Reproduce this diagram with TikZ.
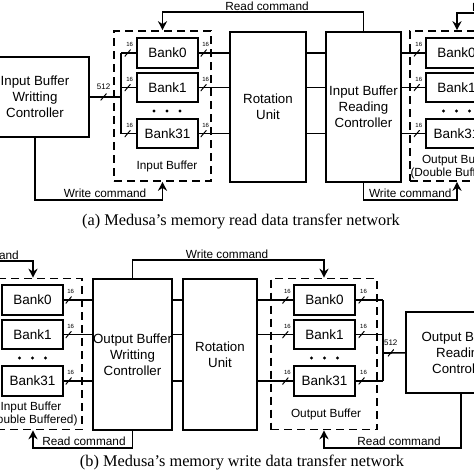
\documentclass[tikz,border=0pt]{standalone}
\usepackage{fontspec}
\setmainfont{Liberation Serif}
\setsansfont{Liberation Sans}
\usetikzlibrary{arrows.meta,positioning}

\begin{document}
\begin{tikzpicture}[x=1pt,y=-1pt,
  blk/.style={draw,line width=1.6pt,align=center,inner sep=0pt,
              font=\sffamily\fontsize{13.3}{16}\selectfont},
  bank/.style={draw,line width=1.6pt,minimum width=61pt,minimum height=29.5pt,
               inner sep=0pt,font=\sffamily\fontsize{13.5}{16}\selectfont},
  buf/.style={draw,dash pattern=on 8pt off 5pt,line width=1.6pt,inner sep=0pt},
  wire/.style={line width=1.6pt},
  cmd/.style={line width=1.6pt,-{Stealth[length=9pt,width=9pt]}},
  cmdlbl/.style={font=\sffamily\fontsize{11.8}{14}\selectfont,inner sep=1pt},
  buflbl/.style={align=center,font=\sffamily\fontsize{11.8}{13}\selectfont},
  slash/.style={minimum width=6pt,minimum height=7pt,inner sep=0pt,outer sep=0pt,
    path picture={\draw[line width=1pt] (path picture bounding box.south west)
                  -- (path picture bounding box.north east);},
    label={[font=\sffamily\fontsize{6}{6}\selectfont,inner sep=0pt,
            label distance=2pt,xshift=2pt]above:#1}},
  bus/.style={slash,
    label={[font=\sffamily\fontsize{8}{8}\selectfont,inner sep=0pt,
            label distance=3pt]above:#1}},
  figcap/.style={font=\fontsize{16.3}{18}\selectfont,inner sep=0pt}]
  \useasboundingbox (0,0) rectangle (474,474);
  \clip (0,0) rectangle (474,474);

  % (a) read network
  \node[blk,minimum width=108pt,minimum height=80pt] (ibwc) at (35,97)
    {Input Buffer\\Writting\\Controller};
  \node[buf,minimum width=97pt,minimum height=150pt] (ibufa) at (162.5,106) {};
  \node[bank] (iba0) at (167.5,53) {Bank0};
  \node[bank] (iba1) at (167.5,87.5) {Bank1};
  \node[bank] (iba31) at (167.5,133.5) {Bank31};
  \node[buflbl] (iblbla) at (167,166.5) {Input Buffer};
  \foreach \dx in {-13,0,13} \fill (167+\dx,111) circle (1.6);
  \coordinate (jna) at (121,97);
  \node[blk,minimum width=76pt,minimum height=150pt] (rua) at (268,107)
    {Rotation\\Unit};
  \node[blk,minimum width=75pt,minimum height=150pt] (ibrc) at (363.5,107)
    {Input Buffer\\Reading\\Controller};
  \node[buf,minimum width=94pt,minimum height=150pt] (obufa) at (457,106) {};
  \node[bank] (oba0) at (456.5,53) {Bank0};
  \node[bank] (oba1) at (456.5,87.5) {Bank1};
  \node[bank] (oba31) at (456.5,133.5) {Bank31};
  \node[buflbl] (oblbla) at (457,166.5) {Output Buffer\\(Double Buffered)};
  \foreach \dx in {-13,0,13} \fill (456.5+\dx,111) circle (1.6);

  \draw[wire] (ibwc) -- node[bus=512,pos=0.44] (sbusa) {} (jna);
  \draw[wire] (jna |- iba0) -- (jna |- iba31);
  \foreach \b in {0,1,31} {
    \draw[wire] (jna |- iba\b) -- node[slash=16,pos=0.44] (sia\b) {} (iba\b.west);
    \draw[wire] (iba\b.east) -- node[slash=16,pos=0.16] (soa\b) {} (iba\b -| rua.west);
    \draw[wire] (rua.east |- iba\b) -- (ibrc.west |- iba\b);
    \draw[wire] (ibrc.east |- oba\b) -- node[slash=16,pos=0.64] (sra\b) {} (oba\b.west);
  }

  \draw[cmd] (ibrc.north) -- ++(0,-19)
    -| node[cmdlbl,above,pos=0.24] (rdlbla) {Read command} (ibufa.north);
  \coordinate (rdsrc) at (490,13);
  \draw[cmd] (rdsrc) -| (obufa.north);
  \node[cmdlbl,anchor=south west] (rdlblb) at (471,13) {Read command};
  \draw[cmd] (ibwc.south) -- ++(0,62)
    -| node[cmdlbl,above,pos=0.275] (wrlbla) {Write command} (ibufa.south);
  \draw[cmd] (ibrc.south) -- ++(0,17)
    -| node[cmdlbl,above,pos=0.25] (wrlblb) {Write command} (obufa.south);

  \node[figcap] (capa) at (241,222) {(a) Medusa's memory read data transfer network};

  % (b) write network
  \node[buf,minimum width=98pt,minimum height=151pt] (ibufb) at (33,354) {};
  \node[bank] (ibb0) at (32.5,300) {Bank0};
  \node[bank] (ibb1) at (32.5,334.5) {Bank1};
  \node[bank] (ibb31) at (32.5,381) {Bank31};
  \node[buflbl] (iblblb) at (31,413.5) {Input Buffer\\(Double Buffered)};
  \foreach \dx in {-13,0,13} \fill (32.5+\dx,358) circle (1.6);
  \node[blk,minimum width=79pt,minimum height=151pt] (obwc) at (132.5,354.5)
    {Output Buffer\\Writting\\Controller};
  \node[blk,minimum width=74pt,minimum height=151pt] (rub) at (220,354.5)
    {Rotation\\Unit};
  \node[buf,minimum width=106pt,minimum height=151pt] (obufb) at (324,354) {};
  \node[bank] (obb0) at (324.5,300) {Bank0};
  \node[bank] (obb1) at (324.5,334.5) {Bank1};
  \node[bank] (obb31) at (324.5,381) {Bank31};
  \node[buflbl] (oblblb) at (326,414) {Output Buffer};
  \foreach \dx in {-13,0,13} \fill (324.5+\dx,358) circle (1.6);
  \coordinate (jnb) at (383,353);
  \node[blk,minimum width=110pt,minimum height=81pt] (obrc) at (461,352.5)
    {Output Buffer\\Reading\\Controller};

  \foreach \b in {0,1,31} {
    \draw[wire] (ibb\b.east) -- node[slash=16,pos=0.17] (sib\b) {} (ibb\b -| obwc.west);
    \draw[wire] (obwc.east |- ibb\b) -- (rub.west |- ibb\b);
    \draw[wire] (rub.east |- obb\b) -- node[slash=16,pos=0.78] (srb\b) {} (obb\b.west);
    \draw[wire] (obb\b.east) -- node[slash=16,pos=0.21] (sob\b) {} (jnb |- obb\b);
  }
  \draw[wire] (jnb |- obb0) -- (jnb |- obb31);
  \draw[wire] (jnb) -- node[bus=512,pos=0.35] (sbusb) {} (obrc);

  \coordinate (wrsrc) at (-20,261);
  \draw[cmd] (wrsrc) -| (ibufb.north);
  \node[cmdlbl,anchor=south east] (wrlblc) at (20,261) {Write command};
  \draw[cmd] (obwc.north) -- ++(0,-18)
    -| node[cmdlbl,above,pos=0.247] (wrlbld) {Write command} (obufb.north);
  \draw[cmd] (obwc.south) -- ++(0,17)
    -| node[cmdlbl,above,pos=0.244] (rdlblc) {Read command} (ibufb.south);
  \draw[cmd] (obrc.south) -- ++(0,54)
    -| node[cmdlbl,above,pos=0.226] (rdlbld) {Read command} (obufb.south);

  \node[figcap] (capb) at (242,463) {(b) Medusa's memory write data transfer network};
\end{tikzpicture}
\end{document}
